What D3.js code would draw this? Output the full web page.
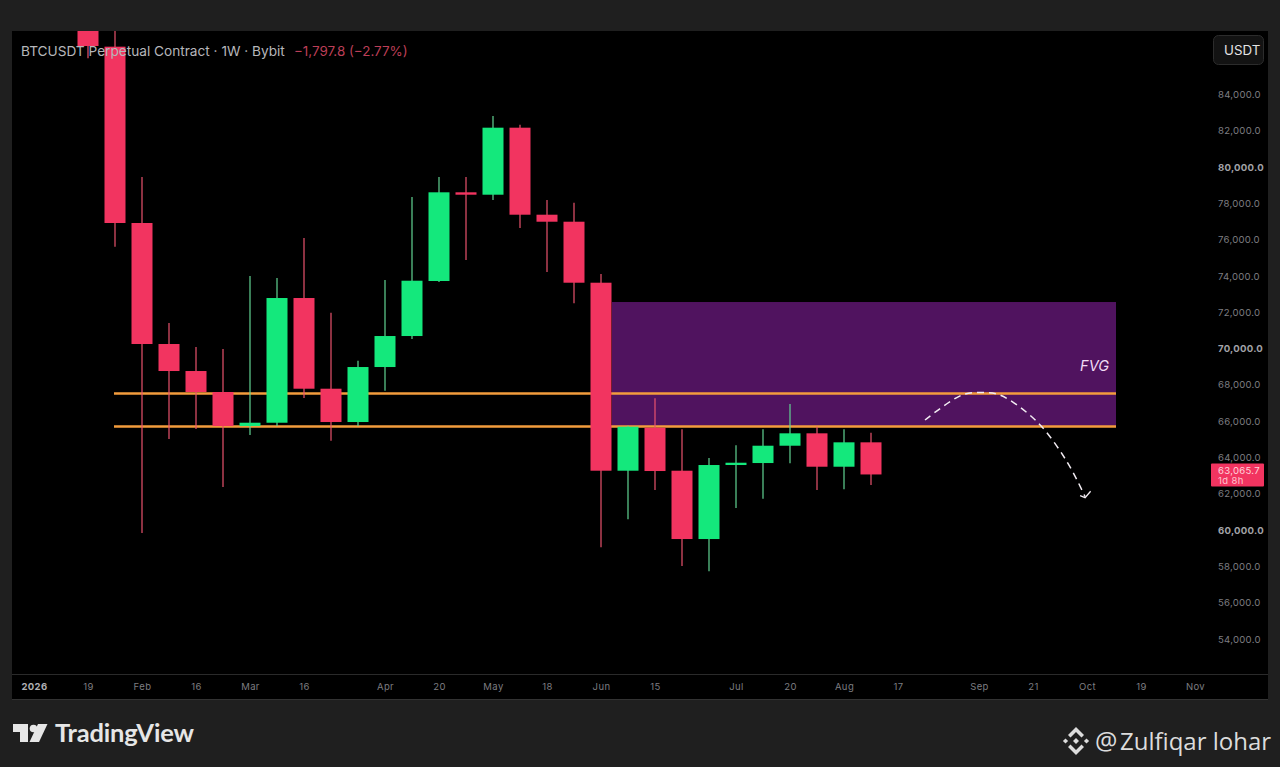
<!DOCTYPE html>
<html><head><meta charset="utf-8">
<script src="https://cdn.jsdelivr.net/npm/d3@7/dist/d3.min.js"></script>
<style>html,body{margin:0;padding:0;background:#1f1f1f;overflow:hidden}svg{display:block}text{font-family:Inter,Roboto,sans-serif}</style>
</head><body><svg id="c" width="1280" height="767"></svg>
<script>
const firstWeek = "2026-01-19";
const opens  = [88700,86634,76920,70253,68765,67608,65734,65916,72787,67790,65955,68985,70693,73724,78611,78479,82171,77377,76991,73630,63272,65641,63272,59508,63586,63695,64649,65332,63492,64836];
const closes = [86672,76920,70253,68765,67608,65734,65916,72787,67790,65955,68985,70693,73740,78611,78479,82171,77377,76991,73630,63272,65696,63255,59508,63586,63712,64649,65332,63492,64836,63065.7];
const highs  = [89500,88000,79454,71410,70087,69977,74000,73889,76093,71977,69332,73779,78352,79454,79454,82815,82336,78187,78038,74110,65750,67260,65552,63971,64671,65552,66946,65696,65552,65365];
const lows   = [86000,75614,59839,65018,65569,62373,65238,65734,67277,64924,65734,67679,70528,73669,74881,78187,76644,74220,72495,59051,60594,62208,58020,57728,61216,61729,63680,62208,62247,62483];
const priceTicks = [54000,56000,58000,60000,62000,64000,66000,68000,70000,72000,74000,76000,78000,80000,82000,84000];
const boldPrices = [60000,70000,80000];
const timeTickDates  = ["2026-01-05","2026-01-19","2026-02-02","2026-02-16","2026-03-02","2026-03-16","2026-04-06","2026-04-20","2026-05-04","2026-05-18","2026-06-01","2026-06-15","2026-07-06","2026-07-20","2026-08-03","2026-08-17","2026-09-07","2026-09-21","2026-10-05","2026-10-19","2026-11-02"];
const timeTickLabels = ["2026","19","Feb","16","Mar","16","Apr","20","May","18","Jun","15","Jul","20","Aug","17","Sep","21","Oct","19","Nov"];
const levelPrices = [67525,65707];
const zoneEnd = "2026-10-19";
const zoneTop = 72567, zoneBottom = 65680;
const pathWeeks  = [31,32.37,33.11,33.78,35.15,36.26,36.93];
const pathPrices = [66065,67442,67580,67442,65971,63767,61839];
const lastPrice = 63065.7;
const WEEK = 7*864e5;

const svg = d3.select("#c");
const L=12,R=1268,T=31,B=699,AX=674;
const x = d3.scaleUtc().domain([new Date("2026-01-19"),new Date("2026-11-02")]).range([88,1195]);
const y = d3.scaleLinear().domain([84000,54000]).range([94.5,639]);
const wx = i => x(new Date(+new Date(firstWeek)+i*WEEK));
const UP="#14e87c",DN="#f23460",UPW="#62d493",DNW="#ea526d";

svg.append("rect").attr("x",L).attr("y",T).attr("width",R-L).attr("height",B-T).attr("fill","#000");
svg.append("rect").attr("x",L).attr("y",B).attr("width",R-L).attr("height",1).attr("fill","#333");
svg.append("rect").attr("x",L).attr("y",AX).attr("width",R-L).attr("height",1).attr("fill","#2a2a2a");
svg.append("defs").append("clipPath").attr("id","pane").append("rect").attr("x",L).attr("y",T).attr("width",R-L).attr("height",AX-T);
const pane = svg.append("g").attr("clip-path","url(#pane)");

// FVG zone + levels
const zx0=612, zx1=x(new Date(zoneEnd))-25;
pane.append("rect").attr("x",zx0).attr("y",y(zoneTop)).attr("width",zx1-zx0).attr("height",y(zoneBottom)-y(zoneTop)).attr("fill","#50135f");
pane.selectAll(".lvl").data(levelPrices).join("line").attr("x1",114).attr("x2",zx1)
  .attr("y1",d=>y(d)).attr("y2",d=>y(d)).attr("stroke","#f39c3d").attr("stroke-width",2.4);

// candles
const idx = d3.range(opens.length);
const g = pane.append("g");
g.selectAll(".w").data(idx).join("line")
  .attr("x1",i=>wx(i)).attr("x2",i=>wx(i)).attr("y1",i=>y(highs[i])).attr("y2",i=>y(lows[i]))
  .attr("stroke",i=>closes[i]>=opens[i]?UPW:DNW).attr("stroke-width",1.2);
g.selectAll(".b").data(idx).join("rect")
  .attr("x",i=>wx(i)-10.5).attr("width",21)
  .attr("y",i=>y(Math.max(opens[i],closes[i])))
  .attr("height",i=>Math.max(2,Math.abs(y(opens[i])-y(closes[i]))))
  .attr("fill",i=>closes[i]>=opens[i]?UP:DN);

// projected path
const pts = pathWeeks.map((w,i)=>[wx(w),y(pathPrices[i])]);
pane.append("path").attr("d",d3.line().curve(d3.curveCatmullRom)(pts)).attr("fill","none")
  .attr("stroke","#f2ecf2").attr("stroke-width",1.5).attr("stroke-dasharray","7 5");
const e=pts[pts.length-1];
pane.append("path").attr("d",`M${e[0]-5} ${e[1]-1}L${e[0]} ${e[1]+1}L${e[0]+5.5} ${e[1]-5.5}`).attr("fill","none").attr("stroke","#f2ecf2").attr("stroke-width",1.3);

pane.append("text").attr("x",1109).attr("y",371).attr("text-anchor","end").attr("font-size",14.5).attr("font-style","italic").attr("fill","#f0dcf5").text("FVG");

// price axis
const ya = svg.append("g").attr("transform","translate(1218,0)").call(d3.axisRight(y).tickValues(priceTicks).tickSize(0).tickPadding(0).tickFormat(d=>d3.format(",.1f")(d)));
ya.select(".domain").remove();
ya.selectAll("text").attr("font-size",9.6).attr("letter-spacing",0.25).attr("fill",d=>boldPrices.includes(d)?"#a3a3a8":"#7d7d80").attr("font-weight",d=>boldPrices.includes(d)?700:400);

// time axis
const tDates = timeTickDates.map(d=>new Date(d));
const xa = svg.append("g").attr("transform",`translate(0,${AX+9})`).call(d3.axisBottom(x).tickValues(tDates).tickSize(0).tickPadding(0).tickFormat((d,i)=>timeTickLabels[i]));
xa.select(".domain").remove();
xa.selectAll("text").attr("font-size",9.5).attr("letter-spacing",0.4).attr("fill",(d,i)=>i==0?"#b0b0b4":"#7d7d80").attr("font-weight",(d,i)=>i==0?700:400);

// last price tag
const ly=y(lastPrice);
svg.append("rect").attr("x",1211).attr("y",ly-11).attr("width",53).attr("height",23).attr("rx",1).attr("fill","#f23460");
svg.append("text").attr("x",1218).attr("y",ly-0.5).attr("font-size",9.6).attr("letter-spacing",0.25).attr("fill","#ffd5dc").text(d3.format(",.1f")(lastPrice));
svg.append("text").attr("x",1218).attr("y",ly+9.5).attr("font-size",9.5).attr("letter-spacing",0.4).attr("fill","#ffc4cf").text("1d 8h");

// USDT button
svg.append("rect").attr("x",1213.5).attr("y",35.5).attr("width",50).attr("height",29).attr("rx",5).attr("fill","#131313").attr("stroke","#2c2c2c");
svg.append("text").attr("x",1224).attr("y",55).attr("font-size",13.3).attr("fill","#e4e4e4").text("USDT");

// legend
svg.append("text").attr("x",21).attr("y",55.5).attr("font-size",13.65).attr("fill","#b6b6ba").text("BTCUSDT Perpetual Contract · 1W · Bybit");
svg.append("text").attr("x",294).attr("y",55.5).attr("font-size",13.4).attr("fill","#bd3f57").text("−1,797.8 (−2.77%)");

// TradingView logo
const lg=svg.append("g").attr("fill","#e6e6e6");
lg.append("path").attr("d","M13 724H28V742H20V732H13Z");
lg.append("circle").attr("cx",33.5).attr("cy",728.5).attr("r",3.8);
lg.append("path").attr("d","M38 724H47.5L39 742H29.5Z");
svg.append("text").attr("x",55).attr("y",742).attr("font-size",25.5).attr("font-weight",700).attr("letter-spacing",-0.2).attr("fill","#e6e6e6").style("font-family","Lato,Inter,sans-serif").text("TradingView");

// Binance mark
const bn=svg.append("g").attr("fill","#dcdcdc").attr("transform","translate(1076,741)");
bn.append("path").attr("d","M0 -14L8 -6L5.5 -3.5L0 -9L-5.5 -3.5L-8 -6Z");
bn.append("path").attr("d","M0 14L8 6L5.5 3.5L0 9L-5.5 3.5L-8 6Z");
bn.append("path").attr("d","M0 -3L3 0L0 3L-3 0Z");
bn.append("path").attr("d","M-10.5 -2.6L-7.9 0L-10.5 2.6L-13.1 0Z");
bn.append("path").attr("d","M10.5 -2.6L13.1 0L10.5 2.6L7.9 0Z");
svg.append("text").attr("x",1095).attr("y",750).attr("font-size",25).attr("fill","#dcdcdc").style("font-family","'Open Sans',sans-serif").text("@");
svg.append("text").attr("x",1120).attr("y",750).attr("font-size",24).attr("fill","#dcdcdc").style("font-family","'Open Sans',sans-serif").text("Zulfiqar lohar");
</script></body></html>
